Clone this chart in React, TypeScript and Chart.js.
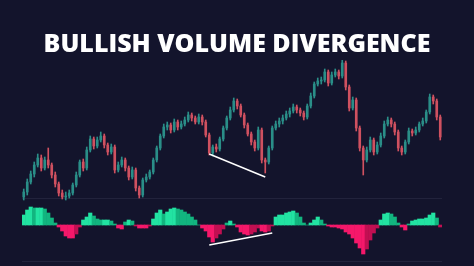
import React, { useEffect, useRef } from "react";
import { Chart, registerables } from "chart.js";

Chart.register(...registerables);

const TITLE = "BULLISH VOLUME DIVERGENCE";

const opens = [
  103, 108, 118, 126, 135, 142, 132, 140, 135, 125,
  116, 107, 103, 104, 107, 115, 125, 138, 132, 150,
  161, 154, 160, 164, 155, 148, 153, 130, 135, 140,
  132, 123, 130, 112, 105, 120, 123, 128, 140, 152,
  164, 173, 175, 170, 178, 173, 176, 180, 185, 182,
  178, 183, 178, 165, 147, 153, 151, 161, 172, 182,
  190, 199, 194, 185, 175, 166, 158, 152, 170, 140,
  138, 152, 172, 176, 179, 182, 186, 189, 193, 190,
  187, 183, 194, 204, 216, 219, 220, 228, 217, 225,
  228, 224, 237, 213, 192, 200, 172, 152, 140, 150,
  160, 148, 155, 164, 176, 180, 176, 168, 152, 148,
  158, 169, 167, 170, 176, 179, 188, 203, 199, 183,
];

const closes = [
  108, 118, 126, 135, 142, 132, 140, 135, 125, 116,
  107, 103, 104, 107, 115, 125, 138, 132, 150, 161,
  154, 160, 164, 155, 148, 153, 130, 135, 140, 132,
  123, 130, 112, 105, 120, 123, 128, 140, 152, 164,
  173, 175, 170, 178, 173, 176, 180, 185, 182, 178,
  183, 178, 165, 147, 153, 151, 161, 172, 182, 190,
  199, 194, 185, 175, 166, 158, 152, 170, 140, 138,
  152, 172, 176, 179, 182, 186, 189, 193, 190, 187,
  183, 194, 204, 216, 219, 220, 228, 217, 225, 228,
  224, 237, 213, 192, 200, 172, 152, 140, 150, 160,
  148, 155, 164, 176, 180, 176, 168, 152, 148, 158,
  169, 167, 170, 176, 179, 188, 203, 199, 183, 163,
];

const highs = [
  111, 121, 129, 138, 146, 145, 143, 152, 137, 128,
  118, 110, 108, 110, 117, 128, 140, 141, 153, 164,
  163, 163, 168, 166, 157, 156, 155, 138, 143, 142,
  134, 133, 132, 114, 122, 126, 130, 142, 154, 166,
  176, 178, 177, 181, 180, 179, 183, 188, 187, 184,
  186, 185, 180, 167, 155, 156, 163, 174, 184, 193,
  202, 201, 196, 187, 177, 168, 160, 173, 172, 142,
  154, 174, 179, 182, 185, 189, 192, 196, 195, 192,
  189, 196, 207, 218, 222, 223, 231, 230, 228, 231,
  230, 240, 239, 215, 203, 202, 174, 154, 153, 163,
  162, 158, 167, 179, 183, 182, 178, 170, 154, 160,
  172, 171, 173, 178, 182, 190, 206, 205, 201, 185,
];

const lows = [
  100, 105, 116, 123, 133, 129, 130, 132, 122, 113,
  104, 101, 100, 102, 105, 113, 123, 129, 130, 148,
  151, 152, 158, 152, 145, 146, 127, 128, 133, 129,
  120, 121, 109, 102, 103, 118, 121, 126, 138, 150,
  162, 170, 167, 168, 170, 171, 174, 178, 179, 176,
  176, 175, 163, 145, 144, 148, 149, 159, 170, 180,
  188, 191, 183, 172, 164, 155, 149, 150, 137, 127,
  136, 150, 170, 173, 176, 180, 183, 187, 187, 184,
  180, 181, 192, 202, 214, 216, 218, 214, 215, 223,
  221, 222, 210, 189, 190, 169, 149, 125, 138, 148,
  145, 146, 153, 162, 174, 173, 165, 149, 145, 146,
  156, 164, 165, 168, 174, 177, 186, 196, 180, 160,
];

const oscillator = [
  10, 15, 18, 17, 17, 17, 16, 12, 7, 2,
  -2, -6, -11, -13, -13, -9, -2, 5, 8, 12,
  9, 6, 5, 5, 5, 4, 1, -3, -4, 3,
  5, 4, -1, -3, -3, -3, -1, 6, 12, 15,
  11, 13, 16, 17, 16, 15, 13, 11, 8, 5,
  0, -3, -6, -12, -17, -13, -9, -4, 2, 4,
  1, -2, -7, -9, -10, -9, -7, -3, -6, -7,
  -6, -1, 8, 10, 10, 12, 13, 14, 12, 8,
  2, 0, 2, 5, 8, 5, 1, -1, -2, -2,
  -3, -4, -7, -9, -13, -18, -23, -29, -24, -15,
  -8, -3, 5, 11, 12, 11, 8, 2, -2, -5,
  1, 4, 5, 6, 6, 7, 10, 12, 7, -2,
];

// Divergence lines: [candle label, value]
const priceLowsLine = [
  { x: "54", y: 146 },
  { x: "70", y: 123 },
];
const oscLowsLine = [
  { x: "54", y: -20 },
  { x: "72", y: -8 },
];

const paneLines = [27, -36];

const BG = "#13142c";
const UP = "#2a8e88";
const DOWN = "#cf5160";

export default function App() {
  const ref = useRef<HTMLCanvasElement | null>(null);

  useEffect(() => {
    if (!ref.current) return;
    const labels = closes.map((_, i) => String(i + 1));
    const candleColors = closes.map((c, i) => (c >= opens[i] ? UP : DOWN));
    const oscColors = oscillator.map((v, i) => {
      const prev = i > 0 ? oscillator[i - 1] : 0;
      const growing = Math.abs(v) >= Math.abs(prev);
      if (v >= 0) return growing ? "#22e3a2" : "#12b57f";
      return growing ? "#f5186a" : "#c10f52";
    });

    const chart = new Chart(ref.current, {
      type: "bar",
      data: {
        labels,
        datasets: [
          {
            type: "bar",
            label: "wick",
            data: lows.map((l, i) => [l, highs[i]]),
            backgroundColor: candleColors,
            barThickness: 1,
            grouped: false,
            yAxisID: "y",
            order: 3,
          },
          {
            type: "bar",
            label: "body",
            data: opens.map((o, i) => [o, closes[i]]),
            backgroundColor: candleColors,
            barThickness: 2,
            minBarLength: 1,
            grouped: false,
            yAxisID: "y",
            order: 2,
          },
          {
            type: "bar",
            label: "volume oscillator",
            data: oscillator,
            backgroundColor: oscColors,
            barPercentage: 1,
            categoryPercentage: 1,
            grouped: false,
            yAxisID: "y2",
            order: 4,
          },
          {
            type: "line",
            label: "price lows",
            data: priceLowsLine,
            borderColor: "#ffffff",
            borderWidth: 1.5,
            pointRadius: 0,
            yAxisID: "y",
            order: 0,
          },
          {
            type: "line",
            label: "oscillator lows",
            data: oscLowsLine,
            borderColor: "#ffffff",
            borderWidth: 1.5,
            pointRadius: 0,
            yAxisID: "y2",
            order: 0,
          },
        ],
      },
      options: {
        responsive: false,
        animation: false,
        layout: { padding: { left: 22, right: 22, top: 0, bottom: 4 } },
        plugins: {
          legend: { display: false },
          tooltip: { enabled: false },
          title: {
            display: true,
            text: TITLE,
            color: "#ffffff",
            font: { family: "'Open Sans'", size: 25, weight: "800" },
            padding: { top: 30, bottom: 0 },
          },
        },
        scales: {
          x: { display: false, offset: true },
          y: { display: false, min: 38, max: 240 },
          y2: {
            display: true,
            position: "right",
            min: -37,
            max: 165,
            border: { display: false },
            ticks: { display: false },
            grid: { color: "#22233c", drawTicks: false, lineWidth: 1 },
            afterBuildTicks: (scale: any) => {
              scale.ticks = paneLines.map((v) => ({ value: v }));
            },
            afterFit: (scale: any) => {
              scale.width = 10;
            },
          },
        },
      },
    });
    return () => chart.destroy();
  }, []);

  return (
    <div
      style={{
        position: "fixed",
        left: 0,
        top: 0,
        width: 474,
        height: 266,
        background: BG,
      }}
    >
      <canvas ref={ref} width={474} height={266} style={{ width: 474, height: 266 }} />
    </div>
  );
}
